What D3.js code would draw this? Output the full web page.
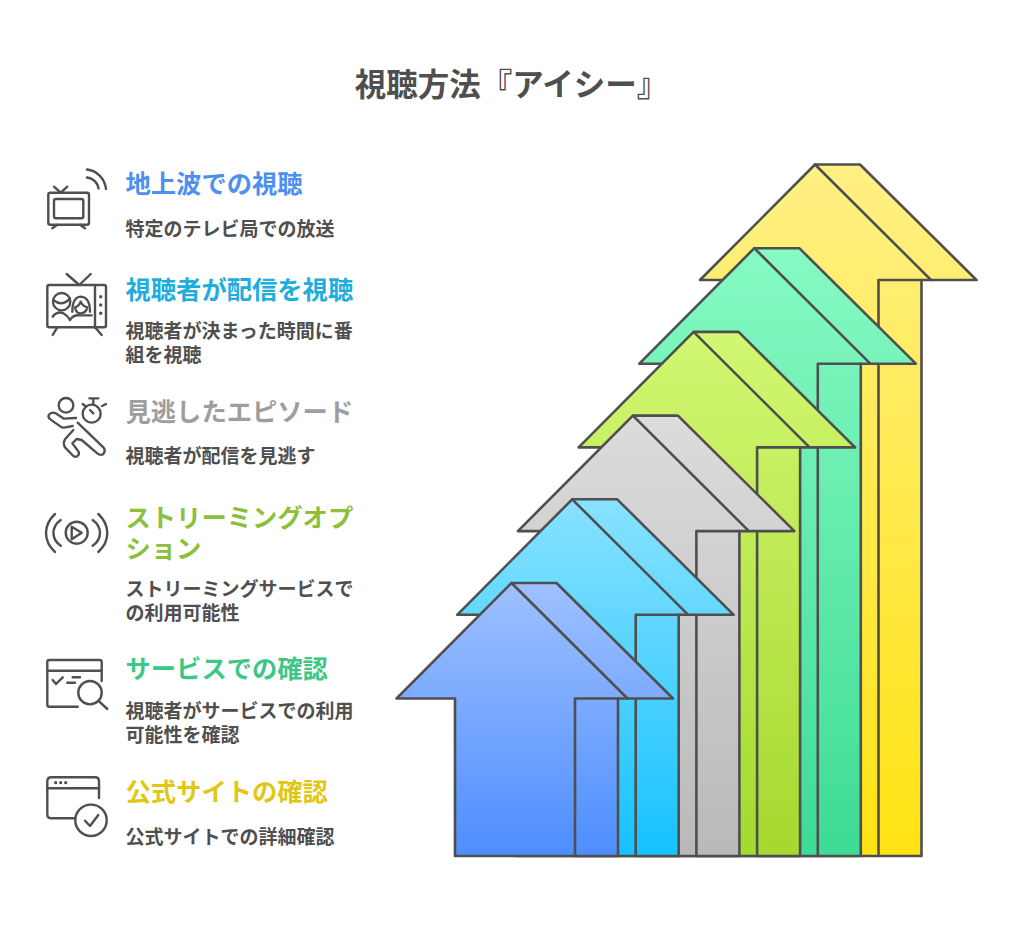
<!DOCTYPE html>
<html>
<head>
<meta charset="utf-8">
<script src="https://cdn.jsdelivr.net/npm/d3@7"></script>
<style>
  html, body { margin: 0; padding: 0; background: #fff; }
  text { font-family: "Noto Sans CJK JP", sans-serif; }
</style>
</head>
<body>
<div id="chart"></div>
<script>
var chartTitle = "視聴方法『アイシー』"

// listed from the lowest arrow to the tallest
var headings = [
  ["地上波での視聴"],
  ["視聴者が配信を視聴"],
  ["見逃したエピソード"],
  ["ストリーミングオプ", "ション"],
  ["サービスでの確認"],
  ["公式サイトの確認"]
]
var descriptions = [
  ["特定のテレビ局での放送"],
  ["視聴者が決まった時間に番", "組を視聴"],
  ["視聴者が配信を見逃す"],
  ["ストリーミングサービスで", "の利用可能性"],
  ["視聴者がサービスでの利用", "可能性を確認"],
  ["公式サイトでの詳細確認"]
]
var levels = [1, 2, 3, 4, 5, 6]

var headingColors = ["#4e8ff0", "#1fadde", "#9e9e9e", "#8cc03c", "#3cc787", "#e0c812"]
var gradientTop = ["#9fc0ff", "#88e2ff", "#dcdcdc", "#d2f772", "#86fac4", "#fff084"]
var gradientBottom = ["#4d8eff", "#15c2ff", "#b9b9b9", "#a4d92e", "#3ddb95", "#ffe313"]

var w = 1024
var h = 930
var ink = "#4f4f4f"

var svg = d3.select("#chart")
            .append("svg")
            .attr("width", w)
            .attr("height", h)
            .style("display", "block")

var defs = svg.append("defs")

svg.append("text")
   .attr("x", 511.5)
   .attr("y", 82)
   .attr("text-anchor", "middle")
   .attr("dominant-baseline", "central")
   .attr("font-size", 31.5)
   .attr("font-weight", 700)
   .attr("fill", "#4f4f4f")
   .text(chartTitle)

// arrows
var x = d3.scaleLinear().domain([1, 6]).range([396.5, 700])
var y = d3.scaleLinear().domain([1, 6]).range([583, 164.5])
var baseY = 856
var headH = 115.5

levels.forEach(function(d, i) {
  var g = defs.append("linearGradient")
              .attr("id", "grad" + i)
              .attr("gradientUnits", "userSpaceOnUse")
              .attr("x1", 0).attr("x2", 0)
              .attr("y1", y(d)).attr("y2", baseY)
  g.append("stop").attr("offset", 0).attr("stop-color", gradientTop[i])
  g.append("stop").attr("offset", 1).attr("stop-color", gradientBottom[i])
})

var arrows = svg.selectAll("g.arrow")
   .data(levels.slice().reverse())
   .enter()
   .append("g")
   .attr("class", "arrow")
   .attr("fill", "none")
   .attr("stroke", ink)
   .attr("stroke-width", 2.6)
   .attr("stroke-linejoin", "round")
   .attr("stroke-linecap", "round")

arrows.append("path")
   .attr("fill", function(d) { return "url(#grad" + (d - 1) + ")" })
   .attr("d", function(d) {
     var l = x(d), t = y(d), head = t + headH
     return d3.line()([
       [l + 115, t], [l + 160, t], [l + 276.5, head], [l + 221.5, head],
       [l + 221.5, baseY], [l + 58.5, baseY], [l + 58.5, head], [l, head]
     ]) + "Z"
   })

arrows.append("path")
   .attr("d", function(d) {
     var l = x(d), t = y(d), head = t + headH
     return d3.line()([[l + 115, t], [l + 231, head]]) +
            d3.line()([[l + 178.5, baseY], [l + 178.5, head], [l + 221.5, head]])
   })

// text column
var headingRows = [182, 288, 410, 516, 667, 790]
var descRows = [227.5, 329.5, 454.5, 587.5, 709.5, 835.5]
var headingLine = 31
var descLine = 24

function addLines(lines, top, lineH, size, color) {
  lines.forEach(function(s, k) {
    svg.append("text")
       .attr("x", 125.5)
       .attr("y", top + k * lineH)
       .attr("dominant-baseline", "central")
       .attr("font-size", size)
       .attr("font-weight", 700)
       .attr("fill", color)
       .text(s)
  })
}

headings.forEach(function(lines, i) {
  addLines(lines, headingRows[i], headingLine, 25.3, headingColors[i])
  addLines(descriptions[i], descRows[i], descLine, 19, ink)
})

// icons
var icons = svg.append("g")
   .attr("fill", "none")
   .attr("stroke", ink)
   .attr("stroke-width", 2.4)
   .attr("stroke-linecap", "round")
   .attr("stroke-linejoin", "round")

function icon(d) { icons.append("path").attr("d", d) }
function ring(cx, cy, r) { icons.append("circle").attr("cx", cx).attr("cy", cy).attr("r", r) }
function dot(cx, cy, r) {
  icons.append("circle").attr("cx", cx).attr("cy", cy).attr("r", r).attr("fill", ink).attr("stroke", "none")
}

// tv with signal
icons.append("rect").attr("x", 48.3).attr("y", 192.7).attr("width", 40.7).attr("height", 32).attr("rx", 2)
icons.append("rect").attr("x", 54).attr("y", 199).attr("width", 29.3).attr("height", 19.3).attr("rx", 2)
icon("M54 186.7L60.7 192.7L67.3 186.7")
icon("M57.3 224.7L52.3 228.3M80 224.7L85 228.3")
icon("M87 169.5C97 170.5 105 179 106 189")
icon("M87 177.5C93 178 98 183 98.5 188.5")

// tv with viewers
icons.append("rect").attr("x", 47.3).attr("y", 285).attr("width", 58.7).attr("height", 42.3).attr("rx", 2)
icon("M95 285V327.3")
icon("M66.7 274L79.3 285L90.7 274")
icon("M57.3 327.3L52.7 335M95 327.3L101.7 335")
dot(100.7, 296.7, 1.7); dot(100.7, 305, 1.7); dot(100.7, 313.3, 1.7)
var viewers = icons.append("g")
   .attr("transform", "translate(40,270) scale(0.3333)")
   .attr("stroke-width", 7)
viewers.append("circle").attr("cx", 65).attr("cy", 95).attr("r", 26)
viewers.append("path").attr("d", "M40 90Q65 112 90 86")
viewers.append("path").attr("d", "M97 125Q97 82 122 80Q150 82 150 125")
viewers.append("path").attr("d", "M105 112Q118 108 122 95Q128 108 142 112M105 112Q108 130 122 130Q138 130 142 112")
viewers.append("path").attr("d", "M38 140Q52 122 70 130Q82 136 90 150")
viewers.append("path").attr("d", "M90 150Q100 134 118 136H155")

// runner with stopwatch
var runner = icons.append("g")
   .attr("transform", "translate(40,390) scale(0.3333)")
   .attr("stroke-width", 7)
runner.append("circle").attr("cx", 78).attr("cy", 46).attr("r", 22)
runner.append("path").attr("d", "M108 84L72 86L47 70Q34 64 27 74Q22 82 32 89L62 110Q68 114 76 112L98 108")
runner.append("path").attr("d", "M100 120L75 148Q68 160 75 172L100 198Q108 204 115 196Q120 188 112 180L97 160L110 147L125 150L172 190Q182 198 190 192Q198 182 190 172L113 98")
runner.append("circle").attr("cx", 155).attr("cy", 71).attr("r", 27)
runner.append("path").attr("d", "M148 25H175M160 25V44")
runner.append("path").attr("d", "M150 60L160 70")
runner.append("path").attr("d", "M128 42L136 48M198 42L186 48")

// play with waves
ring(76.7, 532.7, 11)
icon("M71.7 526.7V539.3L81.7 532.7Z")
icon("M60.7 520C51 527 51 539 60.7 545.7")
icon("M55 514C43 525 43 541 55 552")
icon("M92.7 520C102.4 527 102.4 539 92.7 545.7")
icon("M98.3 514C110.3 525 110.3 541 98.3 552")

// checklist with magnifier
icon("M77.7 706.7H49.3Q47.3 706.7 47.3 704.7V662Q47.3 660 49.3 660H99.7Q101.7 660 101.7 662V681")
icon("M47.3 670.7H101.7")
icon("M52.7 680L56 684L62.7 677.3")
icon("M72.7 677.3H80M67.3 682.7H75")
ring(90, 692.7, 11.7)
icon("M98.3 700.7L107.3 709")

// browser with check
icon("M75 818.3H51.3Q47.3 818.3 47.3 814.3V781.3Q47.3 777.3 51.3 777.3H95Q99 777.3 99 781.3V798")
icon("M47.3 788.3H99")
dot(55.7, 782.7, 1.6); dot(60.7, 782.7, 1.6); dot(65.7, 782.7, 1.6)
ring(91, 820.3, 15.7)
icon("M85 820.7L90 826L98.3 815")
</script>
</body>
</html>
